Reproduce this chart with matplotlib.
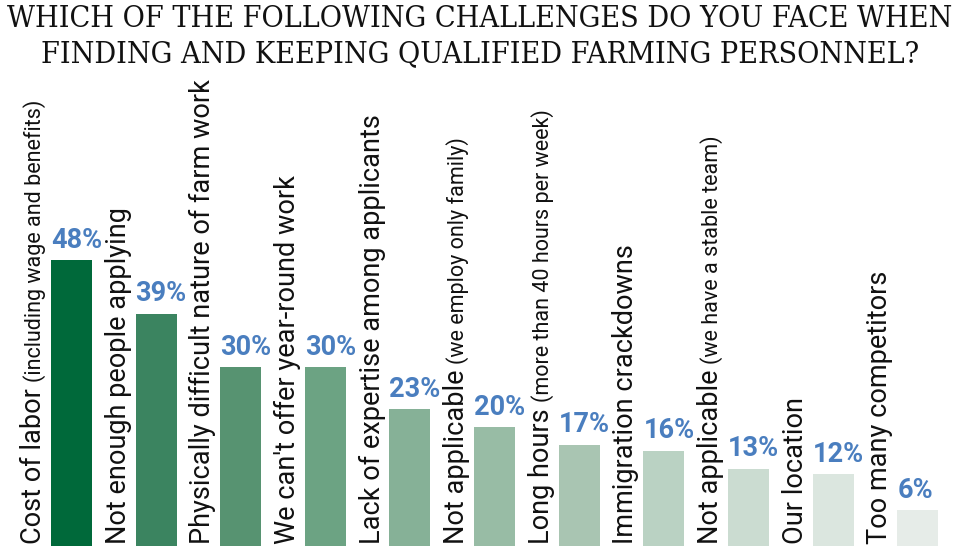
import matplotlib
matplotlib.use("Agg")
import matplotlib.pyplot as plt
from matplotlib import font_manager as fm

# survey answers, in display order
labels = ["Cost of labor", "Not enough people applying", "Physically difficult nature of farm work",
          "We can't offer year-round work", "Lack of expertise among applicants", "Not applicable",
          "Long hours", "Immigration crackdowns", "Not applicable", "Our location", "Too many competitors"]
notes = ["(including wage and benefits)", "", "", "", "", "(we employ only family)",
         "(more than 40 hours per week)", "", "(we have a stable team)", "", ""]
values = [48, 39, 30, 30, 23, 20, 17, 16, 13, 12, 6]
colors = ["#00693a", "#3b8460", "#579371", "#6ca383", "#86b197", "#98bca5",
          "#a9c5b2", "#bad2c3", "#cbdcd1", "#dbe6df", "#e6ece8"]

title_lines = ["WHICH OF THE FOLLOWING CHALLENGES DO YOU FACE WHEN",
               "FINDING AND KEEPING QUALIFIED FARMING PERSONNEL?"]


# pick a face if one is installed
def pick(cands):
    fonts = fm.fontManager.ttflist
    for name, stretch in cands:
        for f in fonts:
            if f.name == name and (stretch is None or str(f.stretch) in ("condensed", "semi-condensed", "75", "87", "87.5")):
                return name, (stretch or "normal")
    return cands[-1][0], "normal"


sans, sans_st = pick([("Roboto", None), ("Liberation Sans", None), ("DejaVu Sans", None)])
serif, serif_st = pick([("DejaVu Serif", "condensed"), ("Liberation Serif", None)])

fig = plt.figure(figsize=(9.6, 5.49), dpi=100)
ax = fig.add_axes([0, 3 / 549, 1, 466 / 549])
ax.set_xlim(-0.845, 10.50)
ax.set_ylim(0, 78.2)
ax.axis("off")

x = list(range(len(values)))
ax.bar(x, values, width=0.485, color=colors)

for i, v in enumerate(values):
    # percentage above bar, left aligned with bar edge
    ax.annotate(f"{v}%", xy=(i - 0.2425, v), xytext=(0, 4.5), textcoords="offset points",
                ha="left", va="bottom", fontsize=19.5, fontweight="bold",
                color="#4a7ebf", family=sans, fontstretch=sans_st)
    # rotated category label to the left of the bar
    t = ax.text(i - 0.36, 0.4, labels[i], rotation=90, rotation_mode="anchor",
                ha="left", va="baseline", fontsize=19.5, family=sans, fontstretch=sans_st,
                color="#111111")
    if notes[i]:
        ax.annotate(notes[i], xy=(i - 0.36, 1), xycoords=("data", t),
                    xytext=(0, 4), textcoords="offset points",
                    rotation=90, rotation_mode="anchor", ha="left", va="baseline",
                    fontsize=15.5, family=sans, fontstretch=sans_st, color="#111111")

# title: first line fills the width, second line uses the same size
fig.canvas.draw()
r = fig.canvas.get_renderer()
titles = []
for k, line in enumerate(title_lines):
    titles.append(fig.text(0.5, 1 - (19 + 35 * k) / 549, line, ha="center", va="center",
                           fontsize=26, family=serif, fontstretch=serif_st, color="#111111"))
w = max(tt.get_window_extent(r).width for tt in titles)
if w > 946:
    for tt in titles:
        tt.set_fontsize(26 * 946 / w)

fig.savefig("out.png", dpi=100)
